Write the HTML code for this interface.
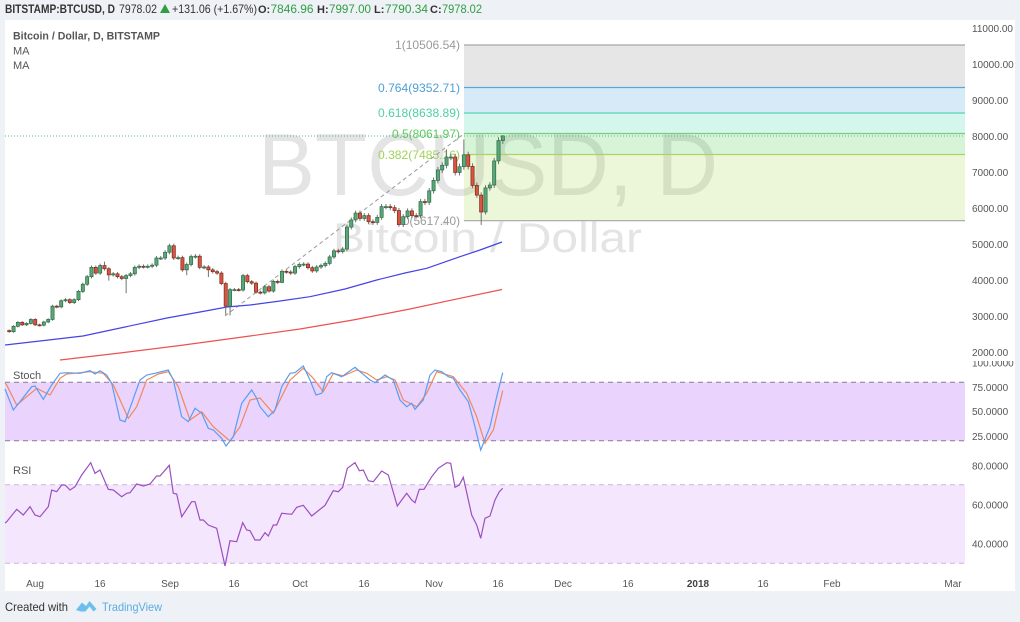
<!DOCTYPE html>
<html><head><meta charset="utf-8"><style>
html,body{margin:0;padding:0;}
body{width:1020px;height:622px;background:#eef1f5;overflow:hidden;font-family:"Liberation Sans",Arial,sans-serif;}
svg{position:absolute;left:0;top:0;}
</style></head><body>
<svg id="s" width="1020" height="622" viewBox="0 0 1020 622" xmlns="http://www.w3.org/2000/svg" font-family="Liberation Sans, Arial, sans-serif">
<defs>
<clipPath id="cp"><rect x="5" y="20" width="960" height="343"/></clipPath>
<clipPath id="cs"><rect x="5" y="361" width="1010" height="100"/></clipPath>
</defs>
<rect x="5" y="20" width="1010" height="571" fill="#ffffff"/>
<!-- header -->
<g font-size="12" fill="#333">
<text x="5" y="13" font-weight="bold" textLength="110" lengthAdjust="spacingAndGlyphs">BITSTAMP:BTCUSD, D</text>
<text x="119" y="13" textLength="38" lengthAdjust="spacingAndGlyphs">7978.02</text>
<polygon points="160,13 165,4 170,13" fill="#2f9e44"/>
<text x="172" y="13" textLength="85" lengthAdjust="spacingAndGlyphs">+131.06 (+1.67%)</text>
<text x="258" y="13" font-weight="bold" font-size="11">O:</text>
<text x="270.5" y="13" fill="#2f9e44" textLength="43" lengthAdjust="spacingAndGlyphs">7846.96</text>
<text x="317" y="13" font-weight="bold" font-size="11">H:</text>
<text x="329" y="13" fill="#2f9e44" textLength="42" lengthAdjust="spacingAndGlyphs">7997.00</text>
<text x="374" y="13" font-weight="bold" font-size="11">L:</text>
<text x="385" y="13" fill="#2f9e44" textLength="43" lengthAdjust="spacingAndGlyphs">7790.34</text>
<text x="430" y="13" font-weight="bold" font-size="11">C:</text>
<text x="442" y="13" fill="#2f9e44" textLength="40" lengthAdjust="spacingAndGlyphs">7978.02</text>
</g>
<!-- watermark -->
<g fill="#e4e4e4">
<text x="258" y="195" font-size="88" textLength="460" lengthAdjust="spacingAndGlyphs">BTCUSD, D</text>
<text x="333" y="252" font-size="42" textLength="309" lengthAdjust="spacingAndGlyphs">Bitcoin / Dollar</text>
</g>
<!-- fib zones -->
<g>
<rect x="464" y="45" width="501" height="42.5" fill="rgba(128,128,128,0.2)"/>
<rect x="464" y="87.5" width="501" height="25.5" fill="rgba(52,152,219,0.2)"/>
<rect x="464" y="113" width="501" height="20.5" fill="rgba(45,210,160,0.2)"/>
<rect x="464" y="133.5" width="501" height="21" fill="rgba(60,200,60,0.2)"/>
<rect x="464" y="154.5" width="501" height="66.2" fill="rgba(160,210,60,0.2)"/>
<line x1="464" y1="45" x2="965" y2="45" stroke="#a6a6a6" stroke-width="1.2"/>
<line x1="464" y1="87.5" x2="965" y2="87.5" stroke="#5aa6d6" stroke-width="1.2"/>
<line x1="464" y1="113" x2="965" y2="113" stroke="#5ad2b4" stroke-width="1.2"/>
<line x1="464" y1="133.5" x2="965" y2="133.5" stroke="#77d077" stroke-width="1.2"/>
<line x1="464" y1="154.5" x2="965" y2="154.5" stroke="#a8d65f" stroke-width="1.2"/>
<line x1="464" y1="220.7" x2="965" y2="220.7" stroke="#a6a6a6" stroke-width="1.2"/>
</g>
<g font-size="12">
<text x="395" y="49" fill="#9a9a9a" textLength="65" lengthAdjust="spacingAndGlyphs">1(10506.54)</text>
<text x="378" y="92" fill="#4e9fd6" textLength="82" lengthAdjust="spacingAndGlyphs">0.764(9352.71)</text>
<text x="378" y="117" fill="#4fcfa6" textLength="82" lengthAdjust="spacingAndGlyphs">0.618(8638.89)</text>
<text x="392" y="138" fill="#5cc95c" textLength="68" lengthAdjust="spacingAndGlyphs">0.5(8061.97)</text>
<text x="378" y="159" fill="#a3d259" textLength="82" lengthAdjust="spacingAndGlyphs">0.382(7485.16)</text>
<text x="403" y="225" fill="#9a9a9a" textLength="57" lengthAdjust="spacingAndGlyphs">0(5617.40)</text>
</g>
<!-- current price line -->
<line x1="5" y1="136" x2="965" y2="136" stroke="#4fb896" stroke-width="1" stroke-dasharray="1,2"/>
<!-- trend dashed -->
<line x1="225" y1="316" x2="463.5" y2="134" stroke="#9a9a9a" stroke-width="1" stroke-dasharray="4,3"/>
<!-- MAs -->
<g clip-path="url(#cp)" fill="none" stroke-width="1.2">
<polyline stroke="#4444e6" points="5,345 40,341 83,336 125,327 167,318 200,312 227,307 250,305 280,301 310,296.7 345,289 376.7,280 405,273 426.7,268.3 460,256.7 480,250 502,242"/>
<polyline stroke="#ee5050" points="60,360 120,353 180,345.5 250,336 300,329 353,320 410,309 460,298.3 502,289.5"/>
</g>
<g id="candles" clip-path="url(#cp)"></g>
<!-- legend -->
<g fill="#555" font-size="11">
<text x="13" y="39.5" font-weight="bold" textLength="147" lengthAdjust="spacingAndGlyphs">Bitcoin / Dollar, D, BITSTAMP</text>
<text x="13" y="54.5">MA</text>
<text x="13" y="69">MA</text>
</g>
<!-- price axis -->
<g font-size="10" fill="#555">
<text x="972" y="32">11000.00</text>
<text x="972" y="68">10000.00</text>
<text x="972" y="104">9000.00</text>
<text x="972" y="140">8000.00</text>
<text x="972" y="176">7000.00</text>
<text x="972" y="212">6000.00</text>
<text x="972" y="248">5000.00</text>
<text x="972" y="284">4000.00</text>
<text x="972" y="320">3000.00</text>
<text x="972" y="356">2000.00</text>
</g>
<!-- stoch pane -->
<rect x="5" y="382.3" width="960" height="58.4" fill="#ead3fc"/>
<line x1="5" y1="382.3" x2="965" y2="382.3" stroke="#8a7a96" stroke-width="1" stroke-dasharray="5,4"/>
<line x1="5" y1="440.7" x2="965" y2="440.7" stroke="#8a7a96" stroke-width="1" stroke-dasharray="5,4"/>
<text x="13" y="379" font-size="11" fill="#555">Stoch</text>
<g fill="none" stroke-width="1.2">
<polyline stroke="#f0895c" points="5,383 6.7,385 16.7,405 26.7,396.7 36.7,388.3 50,395 60,378.3 66.7,374 90,371.7 103.3,373.3 113.3,385 128.3,418.3 136.7,406.7 146.7,380 158.3,374 168.3,371.7 178.3,386.7 190,420 201.7,411.7 213.3,426.7 230,441 240,426.7 250,400 260,398 273.3,413.3 290,380 303.3,368.3 313.3,378.3 323.3,391.7 333.3,373.3 343.3,376 356.7,370 366.7,373.3 376.7,380 386.7,376.7 395,380 403.3,400 416.7,406.7 426.7,393.3 436.7,371.7 453.3,376.7 466.7,393.3 476.7,416.7 485,443.3 493.3,430 502.7,390.7"/>
<polyline stroke="#5a9ef2" points="5,389 6.7,393.3 13.3,410 20,401.7 31.7,386.7 35,386 43.3,399.3 51.7,385 60,373.3 66.7,372.7 80,373.3 90,370.7 95,374 100,370.7 106.7,375 111.7,383.3 120,420 125,421.7 131.7,403.3 140,380 146.7,375 155,373.3 168.3,370 173.3,380 181.7,416.7 188.3,421.7 195,408.3 201.7,413.3 208.3,428.3 213.3,430 221.7,438.3 226,446 233.3,436.7 241.7,403.3 251.7,390 256.7,398.3 260,406.7 268.3,416.7 275,410 281.7,386.7 290,373.3 295,372.7 303.3,366 310,380 316,395 321.7,393.3 326.7,376.7 331.7,372.7 341.7,376.7 355,367.3 360,371.7 370,380 375,382.7 385,375 393.3,380 400,400 406.7,406.7 411.7,403.3 415,409.3 423.3,400 430,375 435,370 441.7,371.7 448.3,376.7 453.3,378.3 460,390 468.3,401.7 473.3,420 480.7,450 490,426.7 496.7,396.7 502.7,372.7"/>
</g>
<g font-size="10" fill="#555">
<text x="972" y="366.5" clip-path="url(#cs)">100.0000</text>
<text x="972" y="391">75.0000</text>
<text x="972" y="415">50.0000</text>
<text x="972" y="440">25.0000</text>
</g>
<!-- RSI pane -->
<rect x="5" y="484.7" width="960" height="78.6" fill="#f4e6fd"/>
<line x1="5" y1="484.7" x2="965" y2="484.7" stroke="#c9b6d8" stroke-width="1" stroke-dasharray="5,4"/>
<line x1="5" y1="563.3" x2="965" y2="563.3" stroke="#c9b6d8" stroke-width="1" stroke-dasharray="5,4"/>
<text x="13" y="474" font-size="11" fill="#555">RSI</text>
<polyline fill="none" stroke="#9b4fc0" stroke-width="1.2" points="5,523 6.7,521.7 16.7,509.3 23.3,515 30,506.7 35,515 40,516.7 48.3,506.7 51.7,490 56.7,491.7 61.7,485 65,485 70,490 75,486.7 81.7,475 90.7,462.7 95,473.3 100,470 108.3,489.3 113.3,490 121.7,496.7 126.7,493.3 130,492.7 136.7,484 143.3,486 150,484 156.7,476 160,476 169.3,465.3 173.3,493.3 176.7,494 181.7,516.7 191.7,501.7 195,501.7 200,520 203.3,520 208.3,525 216.7,528.3 225,566 230,540.7 236.7,541.7 242.7,522.7 246.7,530 250,530.7 255,540 260,540 265,532.7 268.3,536 273.3,525 276.7,525 281.7,513.3 291.7,514.3 296.7,507.3 303.3,505.3 311.7,516 325,505.3 333.3,490.7 338.3,491.7 342.7,487.3 347.3,468.3 355,462.7 359.3,470.7 363.3,470 368.3,480.7 373.3,481.7 381.7,471 388.3,475 397.3,506 401.7,500 406.7,493.3 411.7,500 415,502.7 419.3,489.3 424,489.3 431.7,476.7 438.3,468.3 446.7,462.7 450.7,463.3 455,487.3 459.3,485 463.3,477.3 471.7,515 476.7,525 480.7,538.3 485,518.3 490,516 495,500 499.3,491.7 502.7,488.3"/>
<g font-size="10" fill="#555">
<text x="972" y="469.5">80.0000</text>
<text x="972" y="508.5">60.0000</text>
<text x="972" y="547.5">40.0000</text>
</g>
<!-- time axis -->
<g font-size="10" fill="#555" text-anchor="middle">
<text x="35" y="587">Aug</text>
<text x="100" y="587">16</text>
<text x="170" y="587">Sep</text>
<text x="234" y="587">16</text>
<text x="300" y="587">Oct</text>
<text x="364" y="587">16</text>
<text x="434" y="587">Nov</text>
<text x="498" y="587">16</text>
<text x="563" y="587">Dec</text>
<text x="628" y="587">16</text>
<text x="698" y="587" font-weight="bold" fill="#444">2018</text>
<text x="763" y="587">16</text>
<text x="832" y="587">Feb</text>
<text x="953" y="587">Mar</text>
</g>
<!-- footer -->
<text x="5" y="611" font-size="12" fill="#333" textLength="63" lengthAdjust="spacingAndGlyphs">Created with</text>
<path d="M76,610 L82,602.5 L86,606 L89.5,601 L96.5,609 L93.5,611.5 L89.5,606.5 L85.5,611.5 L80.5,611.5 Z" fill="#6bbfec"/>
<text x="102" y="611" font-size="12" fill="#5aaee3" textLength="60" lengthAdjust="spacingAndGlyphs">TradingView</text>
</svg>
<script>
(function(){
var C=[2530,2680,2790,2720,2760,2870,2720,2710,2800,2870,3240,3220,3390,3420,3340,3420,3650,3850,4060,4320,4160,4370,4280,4110,4140,4060,4010,4090,4140,4320,4350,4340,4350,4380,4580,4580,4740,4920,4580,4590,4250,4400,4620,4630,4320,4330,4250,4200,4160,3870,3240,3700,3700,3690,4090,3920,3880,3630,3610,3780,3660,3930,3900,4210,4190,4160,4340,4400,4410,4310,4220,4330,4370,4430,4610,4780,4760,4830,5440,5640,5830,5680,5760,5590,5570,5710,6010,6010,5980,5900,5510,5730,5890,5760,5750,6150,6130,6450,6740,7030,7160,7390,7390,6960,7120,7450,7130,6600,6330,5860,6530,6610,7280,7847,7978.02];
var LO={21:3600,17:3950,44:3000,45:2980,84:5450,103:5500,35:4100,40:4050,57:3880};
var HI={16:4480,99:7880,31:4980,95:7600,108:7997};
function Y(p){return 45+(10506.54-p)*0.03594;}
function X(d){return 35.2+d*4.33;}
var g=document.getElementById('candles'),h='',o=2560;
for(var i=0;i<C.length;i++){
 var d=i-6,c=C[i],x=X(d);
 var hi=Math.max(o,c)*1.012,lo=Math.min(o,c)*0.988;
 if(HI[d])hi=HI[d]; if(LO[d])lo=LO[d];
 var up=c>=o;
 var yt=Y(Math.max(o,c)),yb=Y(Math.min(o,c));
 if(yb-yt<1){yb=yt+1;}
 h+='<line x1="'+x+'" y1="'+Y(hi)+'" x2="'+x+'" y2="'+Y(lo)+'" stroke="#737373" stroke-width="1"/>';
 h+='<rect x="'+(x-1.6)+'" y="'+yt+'" width="3.2" height="'+(yb-yt)+'" fill="'+(up?'#5aa878':'#d9553f')+'" stroke="'+(up?'#2d6a47':'#7a2a1e')+'" stroke-width="0.7"/>';
 o=c;
}
g.innerHTML=h;
})();
</script>
</body></html>
